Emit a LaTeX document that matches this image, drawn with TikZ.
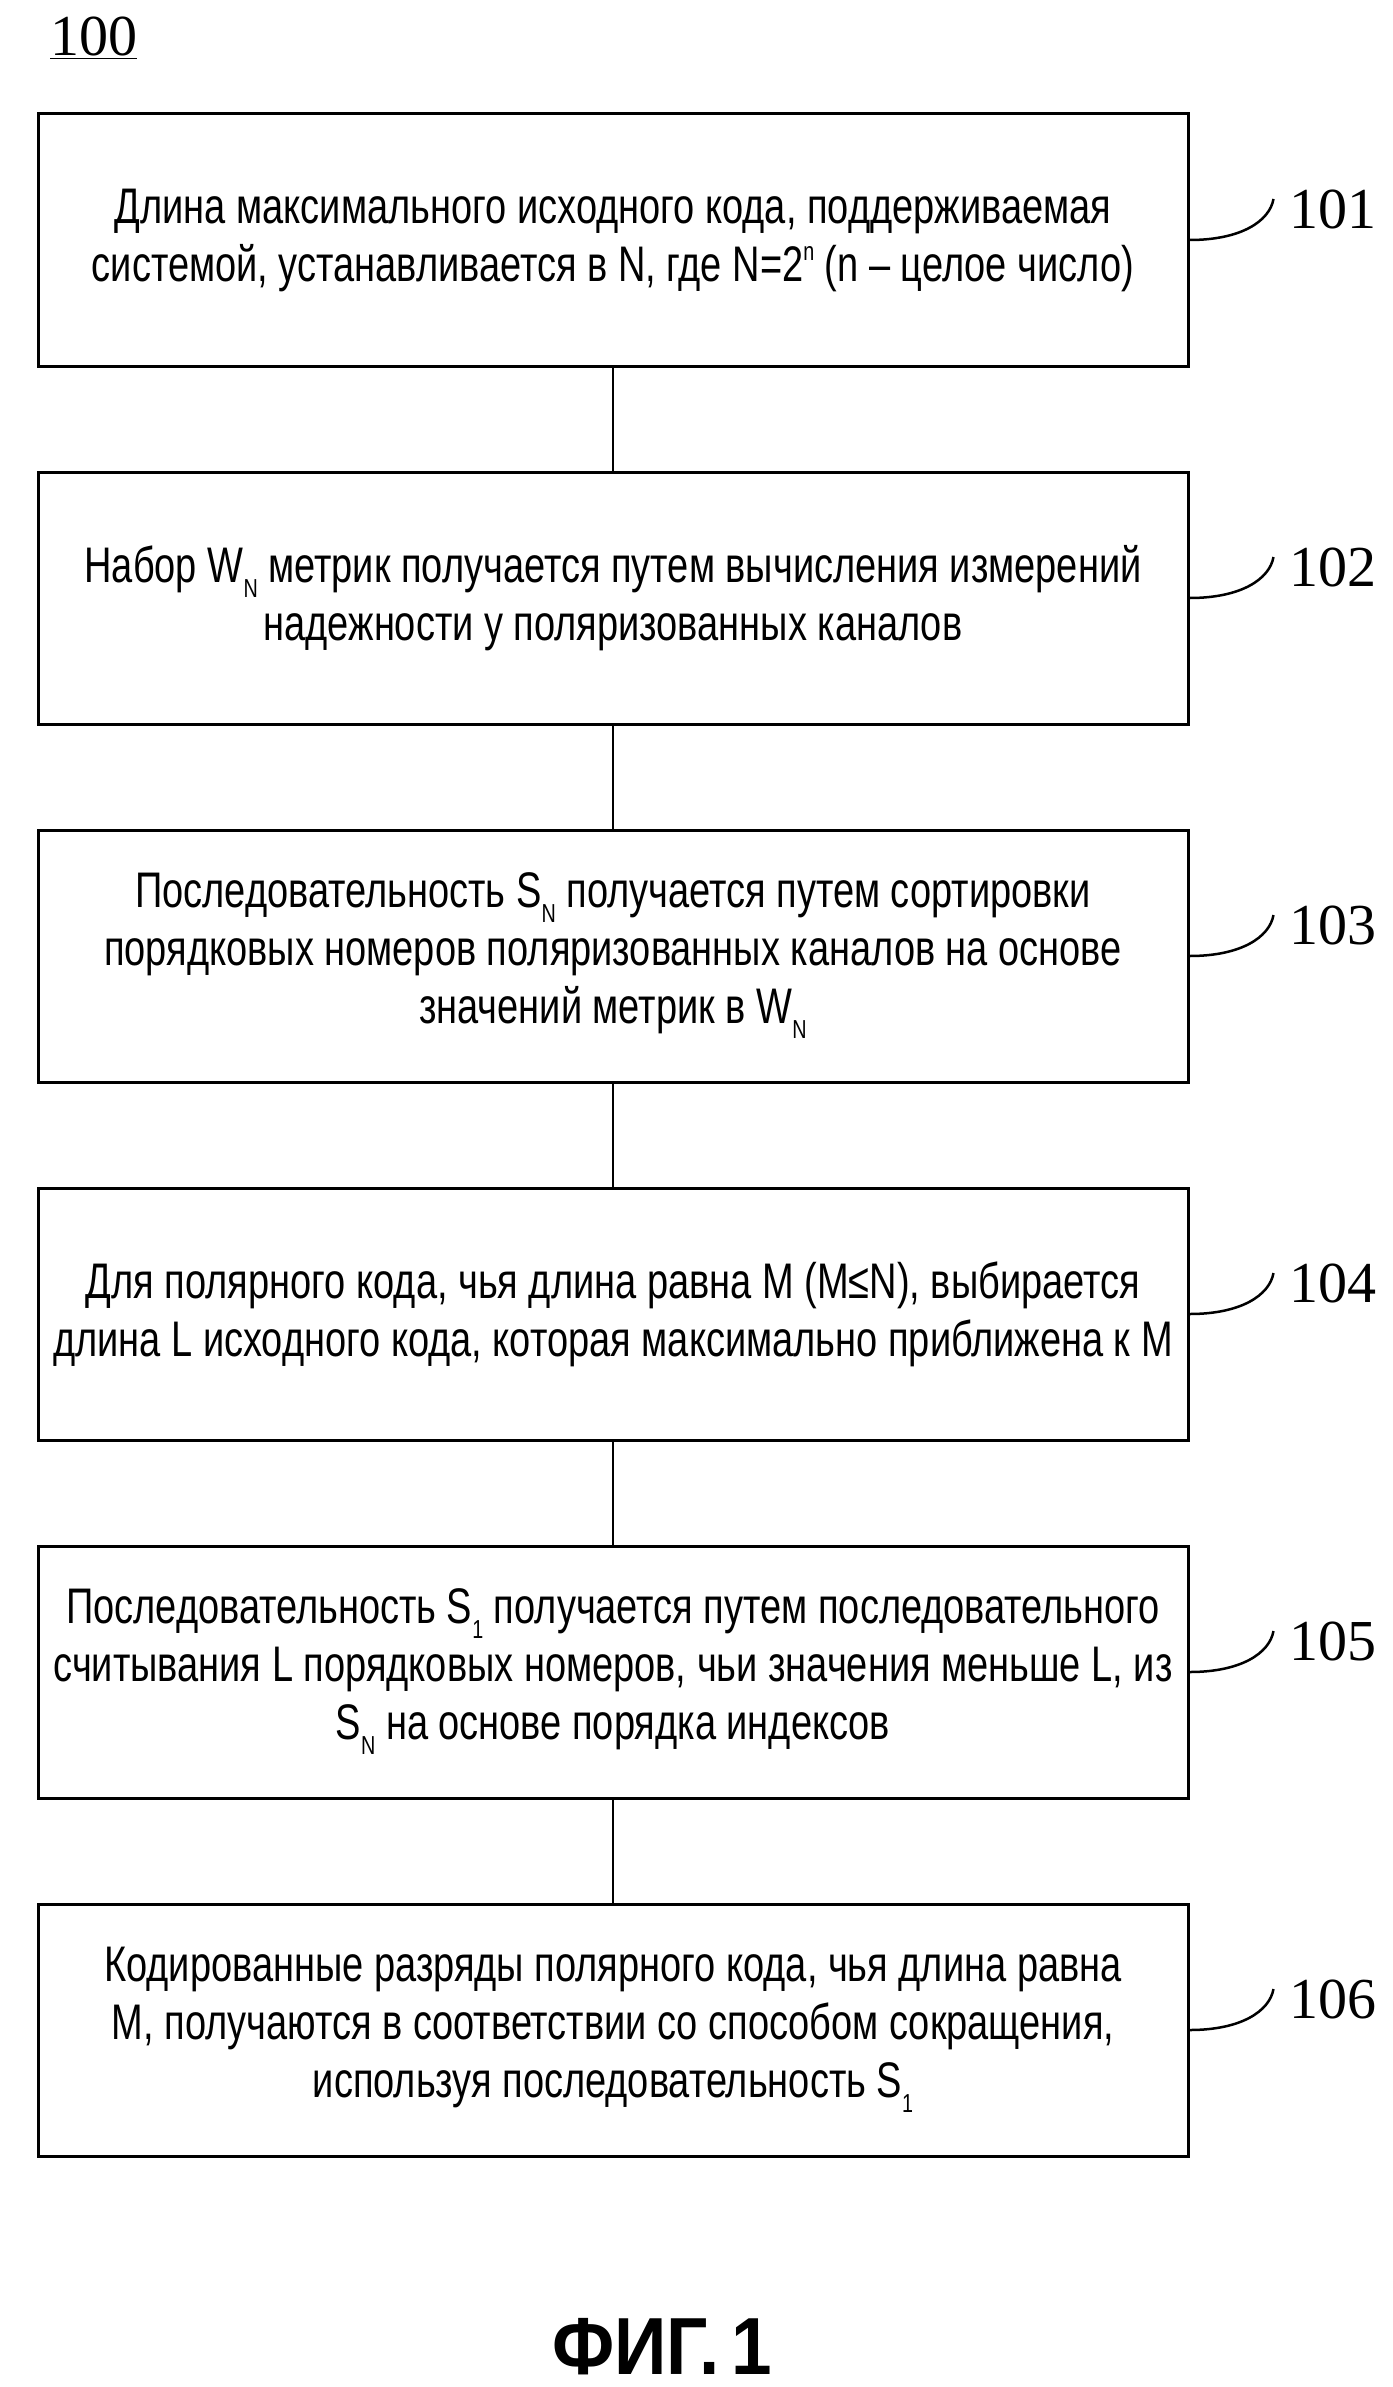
\documentclass[tikz,border=0pt]{standalone}
\usepackage{fontspec}
\setmainfont{Liberation Sans}[FakeStretch=0.76]
\newfontfamily\numfont{Liberation Serif}
\newfontfamily\figfont{Liberation Sans}[FakeStretch=0.9]
\newcommand\lowsub[1]{\raisebox{-0.3em}{\fontsize{26}{26}\selectfont #1}}
\newcommand\highsup[1]{\raisebox{0.42em}{\fontsize{26}{26}\selectfont #1}}
\tikzset{
  stepbox/.style={draw, line width=3pt, minimum width=1150pt, minimum height=252pt,
    align=center, inner sep=0pt, font=\fontsize{50}{58}\selectfont},
  reflabel/.style={anchor=west, inner sep=0pt, font=\numfont\fontsize{58}{58}\selectfont},
  link/.style={line width=2.5pt},
  leader/.style={line width=2.5pt}
}
\begin{document}
\begin{tikzpicture}[x=1pt,y=-1pt]
\useasboundingbox (0,0) rectangle (1392,2387);
\node[anchor=base west, inner sep=0pt, font=\numfont\fontsize{58}{58}\selectfont] (t100) at (50,56) {\underline{100}};

\node[stepbox] (b1) at (613,240) {Длина максимального исходного кода, поддерживаемая\\системой, устанавливается в N, где N=2\highsup{n} (n – целое число)};
\node[stepbox] (b2) at (613,598) {Набор W\lowsub{N} метрик получается путем вычисления измерений\\надежности у поляризованных каналов};
\node[stepbox] (b3) at (613,956) {Последовательность S\lowsub{N} получается путем сортировки\\порядковых номеров поляризованных каналов на основе\\значений метрик в W\lowsub{N}};
\node[stepbox] (b4) at (613,1314) {Для полярного кода, чья длина равна M (M≤N), выбирается\\длина L исходного кода, которая максимально приближена к M};
\node[stepbox] (b5) at (613,1672) {Последовательность S\lowsub{1} получается путем последовательного\\считывания L порядковых номеров, чьи значения меньше L, из\\S\lowsub{N} на основе порядка индексов};
\node[stepbox] (b6) at (613,2030) {Кодированные разряды полярного кода, чья длина равна\\M, получаются в соответствии со способом сокращения,\\используя последовательность S\lowsub{1}};

\draw[link] (b1) -- (b2);
\draw[link] (b2) -- (b3);
\draw[link] (b3) -- (b4);
\draw[link] (b4) -- (b5);
\draw[link] (b5) -- (b6);

\foreach \i/\t in {1/101,2/102,3/103,4/104,5/105,6/106}{
  \node[reflabel] (l\i) at ([xshift=100pt,yshift=31pt]b\i.east) {\t};
  \draw[leader] (b\i.east) .. controls +(52,0) and +(-4,22) .. ([xshift=-16pt,yshift=10pt]l\i.west);
}

\node[anchor=base, font=\figfont\bfseries\fontsize{81}{81}\selectfont, inner sep=0pt] (fig) at (662,2374) {ФИГ.\kern12pt 1};
\end{tikzpicture}
\end{document}
